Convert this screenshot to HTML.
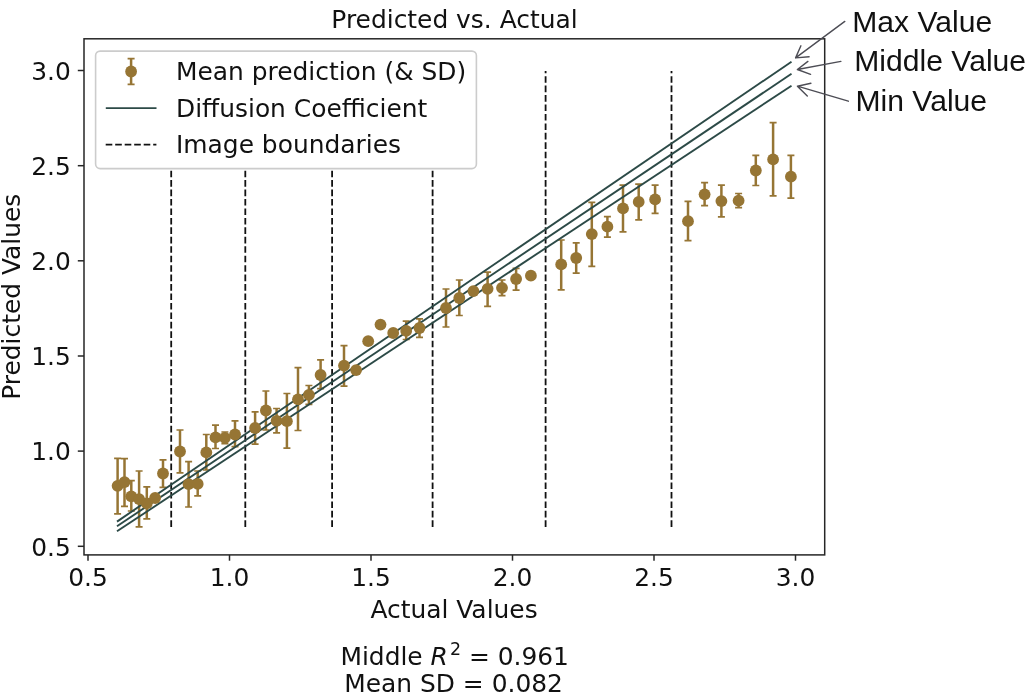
<!DOCTYPE html>
<html lang="en"><head><meta charset="utf-8"><title>Predicted vs. Actual</title>
<style>html,body{margin:0;padding:0;background:#fff}body{width:1025px;height:694px;overflow:hidden}svg{display:block}.dj{font-family:"DejaVu Sans","Liberation Sans",sans-serif;font-size:24.9px;fill:#111}.ar{font-family:"Liberation Sans",Arial,sans-serif;font-size:30.1px;fill:#111}</style></head><body>
<svg width="1025" height="694" viewBox="0 0 1025 694">
<rect width="1025" height="694" fill="#fff"/>
<g stroke="#111" stroke-width="1.8" stroke-dasharray="6.6 2.85" fill="none">
<line x1="171.2" y1="526.9" x2="171.2" y2="70.9"/>
<line x1="245.3" y1="526.9" x2="245.3" y2="70.9"/>
<line x1="332.1" y1="526.9" x2="332.1" y2="70.9"/>
<line x1="432.6" y1="526.9" x2="432.6" y2="70.9"/>
<line x1="545.6" y1="526.9" x2="545.6" y2="70.9"/>
<line x1="671.5" y1="526.9" x2="671.5" y2="70.9"/>
</g>
<g stroke="#967534" fill="none">
<path d="M117.6 458.3V513.9" stroke-width="2.5"/>
<path d="M114.1 458.3h7M114.1 513.9h7" stroke-width="1.7"/>
<path d="M124.5 458.7V506.4" stroke-width="2.5"/>
<path d="M121.0 458.7h7M121.0 506.4h7" stroke-width="1.7"/>
<path d="M131.3 480.7V511.0" stroke-width="2.5"/>
<path d="M127.8 480.7h7M127.8 511.0h7" stroke-width="1.7"/>
<path d="M139.1 471.0V526.8" stroke-width="2.5"/>
<path d="M135.6 471.0h7M135.6 526.8h7" stroke-width="1.7"/>
<path d="M146.8 486.9V518.9" stroke-width="2.5"/>
<path d="M143.3 486.9h7M143.3 518.9h7" stroke-width="1.7"/>
<path d="M163.0 459.9V487.3" stroke-width="2.5"/>
<path d="M159.5 459.9h7M159.5 487.3h7" stroke-width="1.7"/>
<path d="M180.0 430.0V472.9" stroke-width="2.5"/>
<path d="M176.5 430.0h7M176.5 472.9h7" stroke-width="1.7"/>
<path d="M188.6 461.6V507.0" stroke-width="2.5"/>
<path d="M185.1 461.6h7M185.1 507.0h7" stroke-width="1.7"/>
<path d="M197.7 471.0V495.9" stroke-width="2.5"/>
<path d="M194.2 471.0h7M194.2 495.9h7" stroke-width="1.7"/>
<path d="M206.3 434.5V470.0" stroke-width="2.5"/>
<path d="M202.8 434.5h7M202.8 470.0h7" stroke-width="1.7"/>
<path d="M215.5 425.1V448.5" stroke-width="2.5"/>
<path d="M212.0 425.1h7M212.0 448.5h7" stroke-width="1.7"/>
<path d="M224.9 432.0V443.7" stroke-width="2.5"/>
<path d="M221.4 432.0h7M221.4 443.7h7" stroke-width="1.7"/>
<path d="M235.0 420.8V446.6" stroke-width="2.5"/>
<path d="M231.5 420.8h7M231.5 446.6h7" stroke-width="1.7"/>
<path d="M255.1 411.9V444.2" stroke-width="2.5"/>
<path d="M251.6 411.9h7M251.6 444.2h7" stroke-width="1.7"/>
<path d="M265.9 391.0V430.0" stroke-width="2.5"/>
<path d="M262.4 391.0h7M262.4 430.0h7" stroke-width="1.7"/>
<path d="M276.6 408.5V432.9" stroke-width="2.5"/>
<path d="M273.1 408.5h7M273.1 432.9h7" stroke-width="1.7"/>
<path d="M286.9 393.5V448.1" stroke-width="2.5"/>
<path d="M283.4 393.5h7M283.4 448.1h7" stroke-width="1.7"/>
<path d="M298.0 367.6V430.5" stroke-width="2.5"/>
<path d="M294.5 367.6h7M294.5 430.5h7" stroke-width="1.7"/>
<path d="M308.9 385.5V404.3" stroke-width="2.5"/>
<path d="M305.4 385.5h7M305.4 404.3h7" stroke-width="1.7"/>
<path d="M320.6 359.8V388.6" stroke-width="2.5"/>
<path d="M317.1 359.8h7M317.1 388.6h7" stroke-width="1.7"/>
<path d="M344.0 345.7V386.1" stroke-width="2.5"/>
<path d="M340.5 345.7h7M340.5 386.1h7" stroke-width="1.7"/>
<path d="M406.2 321.1V339.5" stroke-width="2.5"/>
<path d="M402.7 321.1h7M402.7 339.5h7" stroke-width="1.7"/>
<path d="M419.5 318.8V337.3" stroke-width="2.5"/>
<path d="M416.0 318.8h7M416.0 337.3h7" stroke-width="1.7"/>
<path d="M446.0 289.0V327.0" stroke-width="2.5"/>
<path d="M442.5 289.0h7M442.5 327.0h7" stroke-width="1.7"/>
<path d="M459.3 280.0V315.5" stroke-width="2.5"/>
<path d="M455.8 280.0h7M455.8 315.5h7" stroke-width="1.7"/>
<path d="M487.6 272.2V306.3" stroke-width="2.5"/>
<path d="M484.1 272.2h7M484.1 306.3h7" stroke-width="1.7"/>
<path d="M502.0 280.0V295.6" stroke-width="2.5"/>
<path d="M498.5 280.0h7M498.5 295.6h7" stroke-width="1.7"/>
<path d="M516.1 268.3V290.1" stroke-width="2.5"/>
<path d="M512.6 268.3h7M512.6 290.1h7" stroke-width="1.7"/>
<path d="M561.2 240.0V289.8" stroke-width="2.5"/>
<path d="M557.7 240.0h7M557.7 289.8h7" stroke-width="1.7"/>
<path d="M576.2 242.9V273.2" stroke-width="2.5"/>
<path d="M572.7 242.9h7M572.7 273.2h7" stroke-width="1.7"/>
<path d="M591.8 202.3V266.3" stroke-width="2.5"/>
<path d="M588.3 202.3h7M588.3 266.3h7" stroke-width="1.7"/>
<path d="M607.4 216.6V237.1" stroke-width="2.5"/>
<path d="M603.9 216.6h7M603.9 237.1h7" stroke-width="1.7"/>
<path d="M623.0 185.1V231.8" stroke-width="2.5"/>
<path d="M619.5 185.1h7M619.5 231.8h7" stroke-width="1.7"/>
<path d="M638.7 184.1V219.9" stroke-width="2.5"/>
<path d="M635.2 184.1h7M635.2 219.9h7" stroke-width="1.7"/>
<path d="M655.1 185.1V213.4" stroke-width="2.5"/>
<path d="M651.6 185.1h7M651.6 213.4h7" stroke-width="1.7"/>
<path d="M688.0 201.3V240.7" stroke-width="2.5"/>
<path d="M684.5 201.3h7M684.5 240.7h7" stroke-width="1.7"/>
<path d="M704.6 182.6V205.6" stroke-width="2.5"/>
<path d="M701.1 182.6h7M701.1 205.6h7" stroke-width="1.7"/>
<path d="M721.4 185.1V216.9" stroke-width="2.5"/>
<path d="M717.9 185.1h7M717.9 216.9h7" stroke-width="1.7"/>
<path d="M738.6 193.5V207.6" stroke-width="2.5"/>
<path d="M735.1 193.5h7M735.1 207.6h7" stroke-width="1.7"/>
<path d="M755.8 155.3V185.5" stroke-width="2.5"/>
<path d="M752.3 155.3h7M752.3 185.5h7" stroke-width="1.7"/>
<path d="M773.1 122.7V195.9" stroke-width="2.5"/>
<path d="M769.6 122.7h7M769.6 195.9h7" stroke-width="1.7"/>
<path d="M790.9 155.3V198.2" stroke-width="2.5"/>
<path d="M787.4 155.3h7M787.4 198.2h7" stroke-width="1.7"/>
</g>
<g stroke="#2c4a47" stroke-width="1.9" fill="none" stroke-linecap="butt">
<line x1="117.0" y1="521.6" x2="791.5" y2="61.7"/>
<line x1="117.0" y1="526.3" x2="791.5" y2="73.8"/>
<line x1="117.0" y1="531.3" x2="791.5" y2="85.7"/>
</g>
<g fill="#967534">
<circle cx="117.6" cy="485.8" r="5.9"/>
<circle cx="124.5" cy="482.1" r="5.9"/>
<circle cx="131.3" cy="496.3" r="5.9"/>
<circle cx="139.1" cy="499.1" r="5.9"/>
<circle cx="146.8" cy="503.3" r="5.9"/>
<circle cx="155.1" cy="498.0" r="5.9"/>
<circle cx="163.0" cy="473.5" r="5.9"/>
<circle cx="180.0" cy="451.5" r="5.9"/>
<circle cx="188.6" cy="484.2" r="5.9"/>
<circle cx="197.7" cy="483.9" r="5.9"/>
<circle cx="206.3" cy="452.4" r="5.9"/>
<circle cx="215.5" cy="437.4" r="5.9"/>
<circle cx="224.9" cy="437.8" r="5.9"/>
<circle cx="235.0" cy="434.5" r="5.9"/>
<circle cx="255.1" cy="428.0" r="5.9"/>
<circle cx="265.9" cy="410.5" r="5.9"/>
<circle cx="276.6" cy="420.8" r="5.9"/>
<circle cx="286.9" cy="421.2" r="5.9"/>
<circle cx="298.0" cy="399.3" r="5.9"/>
<circle cx="308.9" cy="394.9" r="5.9"/>
<circle cx="320.6" cy="375.0" r="5.9"/>
<circle cx="344.0" cy="365.6" r="5.9"/>
<circle cx="356.1" cy="370.1" r="5.9"/>
<circle cx="368.2" cy="341.2" r="5.9"/>
<circle cx="380.5" cy="324.6" r="5.9"/>
<circle cx="393.2" cy="333.0" r="5.9"/>
<circle cx="406.2" cy="330.9" r="5.9"/>
<circle cx="419.5" cy="328.0" r="5.9"/>
<circle cx="446.0" cy="308.0" r="5.9"/>
<circle cx="459.3" cy="298.0" r="5.9"/>
<circle cx="473.4" cy="291.1" r="5.9"/>
<circle cx="487.6" cy="288.8" r="5.9"/>
<circle cx="502.0" cy="287.8" r="5.9"/>
<circle cx="516.1" cy="279.0" r="5.9"/>
<circle cx="530.9" cy="275.7" r="5.9"/>
<circle cx="561.2" cy="264.4" r="5.9"/>
<circle cx="576.2" cy="258.0" r="5.9"/>
<circle cx="591.8" cy="234.1" r="5.9"/>
<circle cx="607.4" cy="226.7" r="5.9"/>
<circle cx="623.0" cy="208.4" r="5.9"/>
<circle cx="638.7" cy="201.9" r="5.9"/>
<circle cx="655.1" cy="199.4" r="5.9"/>
<circle cx="688.0" cy="221.2" r="5.9"/>
<circle cx="704.6" cy="194.3" r="5.9"/>
<circle cx="721.4" cy="201.1" r="5.9"/>
<circle cx="738.6" cy="200.7" r="5.9"/>
<circle cx="755.8" cy="170.5" r="5.9"/>
<circle cx="773.1" cy="159.4" r="5.9"/>
<circle cx="790.9" cy="176.7" r="5.9"/>
</g>
<rect x="84.0" y="38.8" width="740.7" height="516.1" fill="none" stroke="#262626" stroke-width="1.5"/>
<g stroke="#262626" stroke-width="1.5">
<line x1="88.0" y1="554.9" x2="88.0" y2="560.7"/>
<line x1="77.8" y1="546.3" x2="84.0" y2="546.3"/>
<line x1="229.5" y1="554.9" x2="229.5" y2="560.7"/>
<line x1="77.8" y1="451.1" x2="84.0" y2="451.1"/>
<line x1="371.0" y1="554.9" x2="371.0" y2="560.7"/>
<line x1="77.8" y1="356.0" x2="84.0" y2="356.0"/>
<line x1="512.5" y1="554.9" x2="512.5" y2="560.7"/>
<line x1="77.8" y1="260.8" x2="84.0" y2="260.8"/>
<line x1="654.0" y1="554.9" x2="654.0" y2="560.7"/>
<line x1="77.8" y1="165.7" x2="84.0" y2="165.7"/>
<line x1="795.5" y1="554.9" x2="795.5" y2="560.7"/>
<line x1="77.8" y1="70.5" x2="84.0" y2="70.5"/>
</g>
<g class="dj" text-anchor="middle">
<text x="88.0" y="586.2">0.5</text>
<text x="229.5" y="586.2">1.0</text>
<text x="371.0" y="586.2">1.5</text>
<text x="512.5" y="586.2">2.0</text>
<text x="654.0" y="586.2">2.5</text>
<text x="795.5" y="586.2">3.0</text>
</g>
<g class="dj" text-anchor="end">
<text x="70.8" y="555.5">0.5</text>
<text x="70.8" y="460.3">1.0</text>
<text x="70.8" y="365.2">1.5</text>
<text x="70.8" y="270.0">2.0</text>
<text x="70.8" y="174.9">2.5</text>
<text x="70.8" y="79.7">3.0</text>
</g>
<text class="dj" text-anchor="middle" x="454.5" y="28.1">Predicted vs. Actual</text>
<text class="dj" text-anchor="middle" x="454.0" y="617.5">Actual Values</text>
<text class="dj" text-anchor="middle" transform="translate(19.9 296.8) rotate(-90)">Predicted Values</text>
<text class="dj" text-anchor="middle" x="454.7" y="664.8">Middle <tspan font-style="italic">R</tspan><tspan font-size="17.4" dx="2" dy="-9.5">2</tspan><tspan dy="9.5"> = 0.961</tspan></text>
<text class="dj" text-anchor="middle" x="453.6" y="692.3">Mean SD = 0.082</text>
<rect x="95.6" y="51.1" width="380.8" height="117.5" rx="4.5" ry="4.5" fill="#fff" stroke="#ccc" stroke-width="1.6"/>
<g stroke="#967534" fill="none"><path d="M131.1 58.6V84.3" stroke-width="2.5"/><path d="M127.6 58.6h7M127.6 84.3h7" stroke-width="1.7"/></g>
<circle cx="131.1" cy="71.5" r="5.9" fill="#967534"/>
<line x1="105.8" y1="108.1" x2="156.5" y2="108.1" stroke="#2c4a47" stroke-width="1.7"/>
<line x1="105.7" y1="144.7" x2="156.4" y2="144.7" stroke="#111" stroke-width="1.8" stroke-dasharray="6.6 2.9"/>
<g class="dj"><text x="176.0" y="79.9">Mean prediction (&amp; SD)</text><text x="176.0" y="116.8">Diffusion Coefficient</text><text x="176.0" y="153.2">Image boundaries</text></g>
<g stroke="#4d4d55" stroke-width="1.4" fill="none" stroke-linecap="round" stroke-linejoin="round">
<path d="M844.8 21.4L795.6 57.9M800.9 45.8L795.6 57.9L809.1 56.8"/>
<path d="M840.9 61.4L797.4 69.5M807.9 61.4L797.4 69.5L810.6 74.3"/>
<path d="M848.3 101.2L797.4 86.2M810.9 83.3L797.4 86.2L807.3 96.1"/>
</g>
<g class="ar"><text x="852.2" y="32.0">Max Value</text><text x="854.3" y="70.8">Middle Value</text><text x="855.5" y="111.1">Min Value</text></g>
</svg></body></html>
